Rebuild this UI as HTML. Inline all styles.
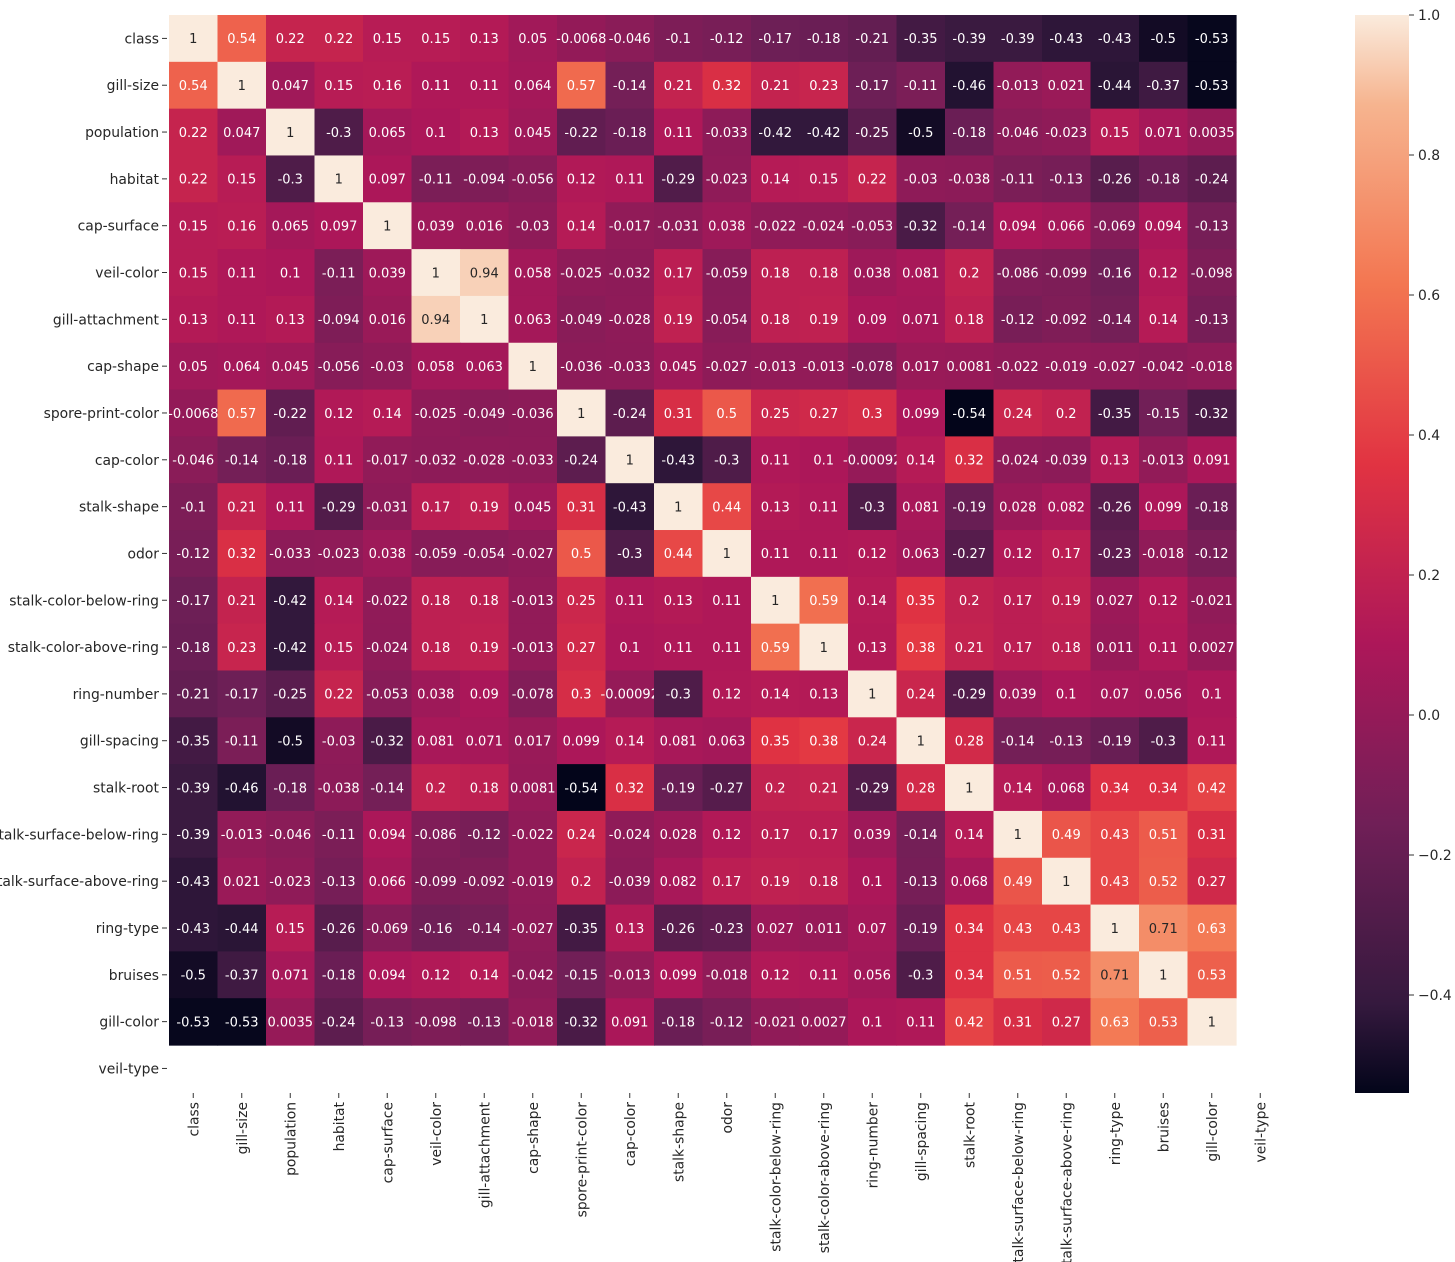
<!DOCTYPE html>
<html><head><meta charset="utf-8"><style>
body{margin:0;background:#fff;}
svg{display:block;font-family:"DejaVu Sans","Liberation Sans",sans-serif;}
</style></head><body>
<svg id="chart" width="1455" height="1262" viewBox="0 0 1455 1262" xmlns="http://www.w3.org/2000/svg">
<defs><linearGradient id="cbg" x1="0" y1="1" x2="0" y2="0">
<stop offset="0" stop-color="#03051a"/><stop offset="0.083" stop-color="#35193e"/><stop offset="0.25" stop-color="#701f57"/><stop offset="0.417" stop-color="#ad1759"/><stop offset="0.583" stop-color="#e13342"/><stop offset="0.75" stop-color="#f37651"/><stop offset="0.917" stop-color="#f6b48f"/><stop offset="1" stop-color="#faebdd"/>
</linearGradient></defs>
<g id="cells"></g>
<g id="ylabels"></g>
<g id="xlabels"></g>
<rect x="1355" y="15" width="54" height="1078" fill="url(#cbg)"/>
<g id="cbticks"></g>
</svg>
<script>
const labels = ["class","gill-size","population","habitat","cap-surface","veil-color","gill-attachment","cap-shape","spore-print-color","cap-color","stalk-shape","odor","stalk-color-below-ring","stalk-color-above-ring","ring-number","gill-spacing","stalk-root","stalk-surface-below-ring","stalk-surface-above-ring","ring-type","bruises","gill-color","veil-type"];
const matrix = [
[1,.54,.22,.22,.15,.15,.13,.05,-.0068,-.046,-.1,-.12,-.17,-.18,-.21,-.35,-.39,-.39,-.43,-.43,-.5,-.53],
[.54,1,.047,.15,.16,.11,.11,.064,.57,-.14,.21,.32,.21,.23,-.17,-.11,-.46,-.013,.021,-.44,-.37,-.53],
[.22,.047,1,-.3,.065,.1,.13,.045,-.22,-.18,.11,-.033,-.42,-.42,-.25,-.5,-.18,-.046,-.023,.15,.071,.0035],
[.22,.15,-.3,1,.097,-.11,-.094,-.056,.12,.11,-.29,-.023,.14,.15,.22,-.03,-.038,-.11,-.13,-.26,-.18,-.24],
[.15,.16,.065,.097,1,.039,.016,-.03,.14,-.017,-.031,.038,-.022,-.024,-.053,-.32,-.14,.094,.066,-.069,.094,-.13],
[.15,.11,.1,-.11,.039,1,.94,.058,-.025,-.032,.17,-.059,.18,.18,.038,.081,.2,-.086,-.099,-.16,.12,-.098],
[.13,.11,.13,-.094,.016,.94,1,.063,-.049,-.028,.19,-.054,.18,.19,.09,.071,.18,-.12,-.092,-.14,.14,-.13],
[.05,.064,.045,-.056,-.03,.058,.063,1,-.036,-.033,.045,-.027,-.013,-.013,-.078,.017,.0081,-.022,-.019,-.027,-.042,-.018],
[-.0068,.57,-.22,.12,.14,-.025,-.049,-.036,1,-.24,.31,.5,.25,.27,.3,.099,-.54,.24,.2,-.35,-.15,-.32],
[-.046,-.14,-.18,.11,-.017,-.032,-.028,-.033,-.24,1,-.43,-.3,.11,.1,-.00092,.14,.32,-.024,-.039,.13,-.013,.091],
[-.1,.21,.11,-.29,-.031,.17,.19,.045,.31,-.43,1,.44,.13,.11,-.3,.081,-.19,.028,.082,-.26,.099,-.18],
[-.12,.32,-.033,-.023,.038,-.059,-.054,-.027,.5,-.3,.44,1,.11,.11,.12,.063,-.27,.12,.17,-.23,-.018,-.12],
[-.17,.21,-.42,.14,-.022,.18,.18,-.013,.25,.11,.13,.11,1,.59,.14,.35,.2,.17,.19,.027,.12,-.021],
[-.18,.23,-.42,.15,-.024,.18,.19,-.013,.27,.1,.11,.11,.59,1,.13,.38,.21,.17,.18,.011,.11,.0027],
[-.21,-.17,-.25,.22,-.053,.038,.09,-.078,.3,-.00092,-.3,.12,.14,.13,1,.24,-.29,.039,.1,.07,.056,.1],
[-.35,-.11,-.5,-.03,-.32,.081,.071,.017,.099,.14,.081,.063,.35,.38,.24,1,.28,-.14,-.13,-.19,-.3,.11],
[-.39,-.46,-.18,-.038,-.14,.2,.18,.0081,-.54,.32,-.19,-.27,.2,.21,-.29,.28,1,.14,.068,.34,.34,.42],
[-.39,-.013,-.046,-.11,.094,-.086,-.12,-.022,.24,-.024,.028,.12,.17,.17,.039,-.14,.14,1,.49,.43,.51,.31],
[-.43,.021,-.023,-.13,.066,-.099,-.092,-.019,.2,-.039,.082,.17,.19,.18,.1,-.13,.068,.49,1,.43,.52,.27],
[-.43,-.44,.15,-.26,-.069,-.16,-.14,-.027,-.35,.13,-.26,-.23,.027,.011,.07,-.19,.34,.43,.43,1,.71,.63],
[-.5,-.37,.071,-.18,.094,.12,.14,-.042,-.15,-.013,.099,-.018,.12,.11,.056,-.3,.34,.51,.52,.71,1,.53],
[-.53,-.53,.0035,-.24,-.13,-.098,-.13,-.018,-.32,.091,-.18,-.12,-.021,.0027,.1,.11,.42,.31,.27,.63,.53,1]
];
const cbTicks = [1.0,0.8,0.6,0.4,0.2,0.0,-0.2,-0.4];
const vmin = -0.54, vmax = 1.0;

const X0=169, Y0=15, CW=48.5, CH=46.82;
const CB_TOP=15, CB_BOT=1093;
const FS='13.9', CFS='13';
const stops=[[0,[3,5,26]],[0.083,[53,25,62]],[0.25,[112,31,87]],[0.417,[173,23,89]],[0.583,[225,51,66]],[0.75,[243,118,81]],[0.917,[246,180,143]],[1,[250,235,221]]];
function cmap(v){let t=(v-vmin)/(vmax-vmin);t=Math.max(0,Math.min(1,t));
 for(let i=1;i<stops.length;i++){if(t<=stops[i][0]){const a=stops[i-1],b=stops[i];const f=(t-a[0])/(b[0]-a[0]);return a[1].map((c,k)=>Math.round(c+(b[1][k]-c)*f));}}return stops[stops.length-1][1];}
function lum(c){const l=c.map(x=>{x/=255;return x<=0.03928?x/12.92:Math.pow((x+0.055)/1.055,2.4);});return 0.2126*l[0]+0.7152*l[1]+0.0722*l[2];}
const xPos=i=>X0+i*CW, yPos=i=>Y0+i*CH;
const cbY=v=>CB_BOT-(v-vmin)/(vmax-vmin)*(CB_BOT-CB_TOP);
const NS="http://www.w3.org/2000/svg";
function mk(tag,attrs,parent,txt){const e=document.createElementNS(NS,tag);for(const k in attrs)e.setAttribute(k,attrs[k]);if(txt!==undefined)e.textContent=txt;parent.appendChild(e);return e;}
const cells=document.getElementById('cells');
matrix.forEach((row,r)=>row.forEach((v,c)=>{
 const col=cmap(v);
 const rc=mk('rect',{x:xPos(c),y:yPos(r),width:CW+0.6,height:CH+0.6,fill:`rgb(${col})`},cells);
 
 
 const t=mk('text',{x:xPos(c)+CW/2,y:yPos(r)+CH/2+4.8,'text-anchor':'middle','font-size':CFS,fill:lum(col)>0.36?'#262626':'#ffffff'},cells,String(v));
 
 
}));
const yl=document.getElementById('ylabels'), xl=document.getElementById('xlabels');
labels.forEach((lab,i)=>{
 const y=yPos(i)+CH/2;
 mk('line',{x1:162,x2:167,y1:y,y2:y,stroke:'#333','stroke-width':1},yl);
 const t=mk('text',{x:159,y:y+5,'text-anchor':'end','font-size':FS,fill:'#262626'},yl,lab);
 
 
 const x=xPos(i)+CW/2;
 mk('line',{x1:x,x2:x,y1:1093,y2:1098,stroke:'#333','stroke-width':1},xl);
 const t2=mk('text',{x:0,y:0,transform:`translate(${x+5},1102) rotate(-90)`,'text-anchor':'end','font-size':FS,fill:'#262626'},xl,lab);
 
 
});
const cb=document.getElementById('cbticks');
cbTicks.forEach(v=>{
 const y=cbY(v);
 mk('line',{x1:1409,x2:1414,y1:y,y2:y,stroke:'#333','stroke-width':1},cb);
 const t=mk('text',{x:1418,y:y+5,'font-size':FS,fill:'#262626'},cb,v.toFixed(1).replace('-','\u2212'));
 
 
});
</script>
</body></html>
